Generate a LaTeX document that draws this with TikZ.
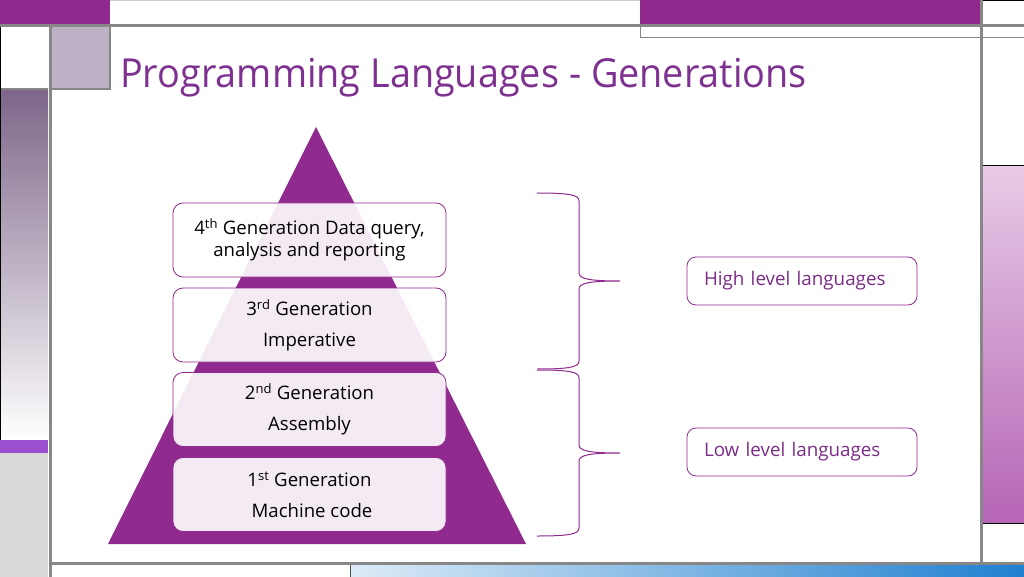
\documentclass[tikz,border=0pt]{standalone}
\usepackage{fontspec}
\setmainfont{Open Sans}
\definecolor{pyr}{HTML}{912A8E}
\definecolor{ttl}{HTML}{7E3190}
\definecolor{lbl}{HTML}{7B2D86}
\definecolor{gline}{HTML}{878787}
\definecolor{lavsq}{HTML}{BDB1C5}
\definecolor{lgrad}{HTML}{7D6689}
\definecolor{vbar}{HTML}{9C50D0}
\definecolor{lgray}{HTML}{D9D9D9}
\definecolor{pinktop}{HTML}{E8CBE7}
\definecolor{pinkbot}{HTML}{B565B5}
\definecolor{bluel}{HTML}{DDEBF7}
\definecolor{bluer}{HTML}{2080D0}
\tikzset{
  genbox/.style={draw=pyr, line width=0.8pt, rounded corners=10pt, fill=white,
    fill opacity=0.9, text opacity=1, minimum width=273pt, minimum height=74pt,
    align=center, font=\fontsize{18.6}{22}\selectfont, text=black, inner sep=0pt},
  lvlbox/.style={draw=pyr, line width=0.8pt, rounded corners=9pt, fill=white,
    text width=196pt, inner xsep=17pt, minimum height=48pt, align=left,
    font=\fontsize{18.8}{22}\selectfont, text=lbl},
  bracestyle/.style={draw=pyr, line width=1pt},
}
\begin{document}
\begin{tikzpicture}[x=1pt,y=-1pt]
\useasboundingbox (0,0) rectangle (1024,577);
\fill[white] (0,0) rectangle (1024,577);
% left column
\shade[top color=lgrad, bottom color=white] (0,89) rectangle (48,440);
\fill[vbar] (0,440) rectangle (48,453);
\fill[lgray] (0,453) rectangle (48,577);
\draw[gline, line width=1.5pt] (0,89) -- (48,89);
\draw[black, line width=1pt] (0.5,25) -- (0.5,440);
% top bars
\fill[pyr] (0,0) rectangle (110,24);
\fill[pyr] (640,0) rectangle (980,24);
\draw[gray!40, line width=1pt] (110,0.5) -- (640,0.5);
\draw[black, line width=1pt] (982,0.5) -- (1024,0.5);
% lavender square
\fill[lavsq] (52,26) rectangle (110,89);
\draw[gline, line width=1.5pt] (52,89) -- (110,89) -- (110,26);
% thin outline under right purple bar
\draw[gline, line width=1pt] (640,25) -- (640,38) -- (1024,38);
% right pink column
\shade[top color=pinktop, bottom color=pinkbot] (983,166) rectangle (1024,523);
\draw[black, line width=1pt] (983,166) -- (1024,166);
\draw[black, line width=1pt] (983,523) -- (1024,523);
% bottom blue gradient
\shade[left color=bluel, right color=bluer] (350,565) rectangle (1024,577);
\draw[black!70, line width=0.6pt] (350,565) -- (350,577);
% frame lines
\draw[gline, line width=3pt] (0,25.5) -- (1024,25.5);
\draw[gline, line width=3pt] (50.5,24) -- (50.5,577);
\draw[gline, line width=3pt] (981,0) -- (981,564);
\draw[gline, line width=3pt] (49,563) -- (1024,563);
% title
\node[anchor=base west, text=ttl, font=\fontsize{40}{48}\selectfont, inner sep=0pt] (title) at (120,88) {\scalebox{0.945}[1]{Programming Languages - Generations}};
% pyramid
\fill[pyr] (316,127) -- (526,544) -- (108,544) -- cycle;
% generation boxes
\node[genbox] (g4) at (309.5,240) {4\textsuperscript{th} Generation Data query,\\analysis and reporting};
\node[genbox] (g3) at (309.5,325) {3\textsuperscript{rd} Generation\\[9pt]Imperative};
\node[genbox] (g2) at (309.5,409.5) {2\textsuperscript{nd} Generation\\[9pt]Assembly};
\node[genbox] (g1) at (309.5,494.5) {1\textsuperscript{st} Generation\\[9pt]\hspace*{5pt}Machine code};
% braces
\draw[bracestyle] (537,193) .. controls (570,193) and (579,195) .. (579,201) -- (579,273)
  .. controls (579,279) and (590,281) .. (620,281)
  .. controls (590,281) and (579,283) .. (579,289) -- (579,361)
  .. controls (579,367) and (570,369) .. (537,369);
\draw[bracestyle] (537,370) .. controls (570,370) and (579,372) .. (579,378) -- (579,445)
  .. controls (579,451) and (590,453) .. (620,453)
  .. controls (590,453) and (579,455) .. (579,461) -- (579,528)
  .. controls (579,534) and (570,536) .. (537,536);
% level labels
\node[lvlbox] (hi) at (802,281) {High level languages};
\node[lvlbox] (lo) at (802,452) {Low level languages};
\end{tikzpicture}
\end{document}
